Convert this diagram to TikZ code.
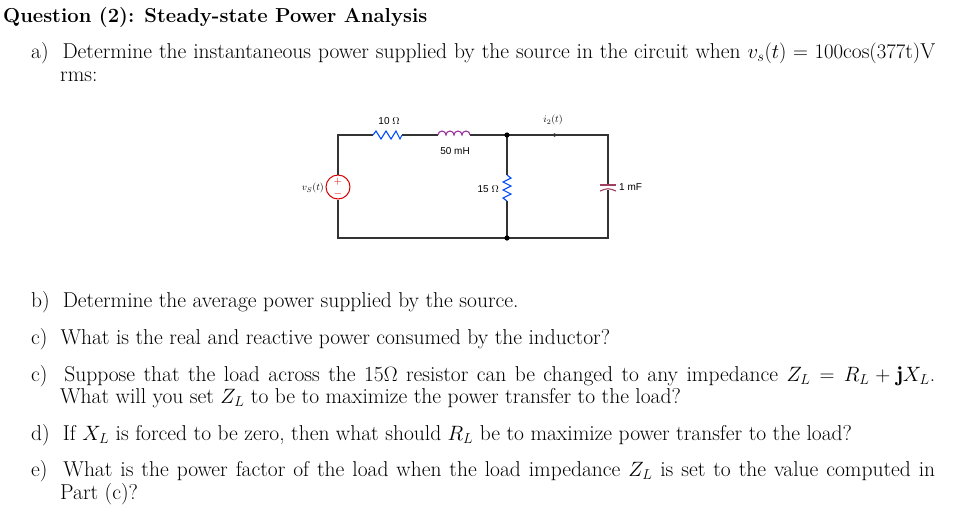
\documentclass[tikz,border=0pt]{standalone}
\usepackage{fontspec}
\usepackage{amsmath}
\newfontfamily\circfont{Liberation Sans}
\begin{document}
\begin{tikzpicture}[x=1pt,y=-1pt,
  txt/.style={anchor=base west,inner sep=0pt,font=\fontsize{21.5}{24}\selectfont},
  ctxt/.style={inner sep=0pt,font=\circfont\fontsize{10}{11}\selectfont},
  wire/.style={line width=1.1pt,color=black!80}]
\useasboundingbox (0,0) rectangle (960,515);
\node[txt,font=\bfseries\fontsize{20.2}{22}\selectfont] (title) at (3,22) {Question (2): Steady-state Power Analysis};
\node[txt] (a1) at (31,58) {\makebox[904pt][s]{a)\ \ Determine the instantaneous power supplied by the source in the circuit when $v_s(t) = 100\mathrm{cos}(377\mathrm{t})\mathrm{V}$}};
\node[txt] (a2) at (60,81) {rms:};
\node[txt] (b) at (31,307) {b)\ \ Determine the average power supplied by the source.};
\node[txt] (c1) at (31,344) {c)\ \ What is the real and reactive power consumed by the inductor?};
\node[txt] (c2) at (31,381) {\makebox[904pt][s]{c)\ \ Suppose that the load across the 15$\Omega$ resistor can be changed to any impedance $Z_L = R_L + \mathbf{j}X_L$.}};
\node[txt] (c3) at (60,403) {What will you set $Z_L$ to be to maximize the power transfer to the load?};
\node[txt] (d) at (31,440) {d)\ \ If $X_L$ is forced to be zero, then what should $R_L$ be to maximize power transfer to the load?};
\node[txt] (e1) at (31,476) {\makebox[904pt][s]{e)\ \ What is the power factor of the load when the load impedance $Z_L$ is set to the value computed in}};
\node[txt] (e2) at (60,499) {Part (c)?};
% circuit
\coordinate (tl) at (338,135); \coordinate (bl) at (338,238);
\coordinate (tm) at (507,135); \coordinate (bm) at (507,238);
\coordinate (tr) at (608,135); \coordinate (br) at (608,238);
\coordinate (r1a) at (373,135); \coordinate (r1b) at (402,135);
\coordinate (l1a) at (438,135); \coordinate (l1b) at (470,135);
\coordinate (r2a) at (507,175); \coordinate (r2b) at (507,201);
\coordinate (c1a) at (608,185); \coordinate (c1b) at (608,190);
\node[circle,draw=red!85!black,line width=1pt,minimum size=24pt,inner sep=0pt] (src) at (338,187) {};
\node[ctxt,red!85!black,font=\fontsize{11}{11}\selectfont] (plus) at (338,181.5) {$+$};
\node[ctxt,red!85!black,font=\fontsize{11}{11}\selectfont] (minus) at (338,193.5) {$-$};
\draw[wire] (src.north) -- (tl) -- (r1a);
\draw[wire] (r1b) -- (l1a);
\draw[wire] (l1b) -- (tm) -- (tr) -- (c1a);
\draw[wire] (c1b) -- (br) -- (bl) -- (src.south);
\draw[wire] (tm) -- (r2a); \draw[wire] (r2b) -- (bm);
\fill (tm) circle (2.6pt); \fill (bm) circle (2.6pt);
\draw[blue!70!cyan,line width=1.1pt] (r1a) -- (376,131) -- (381,139) -- (386,131) -- (391,139) -- (396,131) -- (400,139) -- (r1b);
\draw[blue!70!cyan,line width=1.1pt] (r2a) -- (511,178) -- (503,182) -- (511,186) -- (503,190) -- (511,194) -- (503,198) -- (r2b);
\draw[violet!80,line width=1.1pt] (l1a) arc[start angle=180,end angle=360,radius=4] arc[start angle=180,end angle=360,radius=4] arc[start angle=180,end angle=360,radius=4] arc[start angle=180,end angle=360,radius=4];
\draw[purple!50!gray,line width=1.1pt] (600,185) -- (616,185);
\draw[purple!50!gray,line width=1.1pt] (600,191) .. controls (608,188) .. (616,191);
\draw[black!80,line width=0.8pt,-{latex}] (550,135) -- (559,135);
\node[ctxt] (lr1) at (389,121) {10 \ensuremath{\Omega}};
\node[ctxt] (ll1) at (455,151) {50 mH};
\node[ctxt,anchor=east] (lr2) at (499,189) {15 \ensuremath{\Omega}};
\node[ctxt,anchor=west] (lc1) at (619,187) {1 mF};
\node[ctxt,font=\fontsize{10}{11}\selectfont] (li) at (553,120) {$i_2(t)$};
\node[ctxt,font=\fontsize{10}{11}\selectfont,anchor=east] (lv) at (324,188) {$v_S(t)$};
\end{tikzpicture}
\end{document}
